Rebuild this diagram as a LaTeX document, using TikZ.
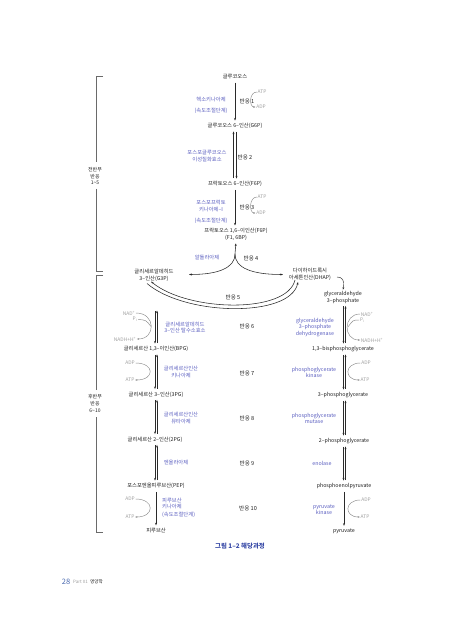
\documentclass[tikz,border=0pt]{standalone}
\usepackage{fontspec}
\setmainfont{Noto Sans CJK KR}
\usetikzlibrary{arrows.meta,calc}
\definecolor{txt}{HTML}{1E1E1E}
\definecolor{enzblue}{HTML}{5A5EC0}
\definecolor{cofgrey}{HTML}{A0A0A0}
\definecolor{arrc}{HTML}{2A2A2A}
\definecolor{sidec}{HTML}{8C8C8C}
\definecolor{brkc}{HTML}{6A6A6A}
\definecolor{capblue}{HTML}{3A4CA8}
\definecolor{pgblue}{HTML}{4A6AB0}
\tikzset{
 lbl/.style={font=\fontsize{5.3}{7}\selectfont, text=txt, inner sep=1pt, align=center},
 enz/.style={font=\fontsize{5.3}{6.6}\selectfont, text=enzblue, inner sep=1pt, align=center},
 cof/.style={font=\fontsize{4.9}{6}\selectfont, text=cofgrey, inner sep=0.6pt},
 rxn/.style={font=\fontsize{5.6}{7}\selectfont, text=txt, inner sep=1pt},
 brl/.style={font=\fontsize{5}{6.6}\selectfont, text=txt, inner sep=1pt, align=center},
 arr/.style={draw=arrc, line width=0.55pt, -{Stealth[length=2.7pt,width=2pt]}, shorten <=2pt, shorten >=1.5pt},
 side/.style={draw=sidec, line width=0.45pt},
 sidearr/.style={side, -{Stealth[length=2.3pt,width=1.8pt]}},
 brk/.style={draw=brkc, line width=0.55pt},
}
\begin{document}
\begin{tikzpicture}[x=1pt,y=-1pt]
\fill[white] (0,0) rectangle (474,628);
\useasboundingbox (0,0) rectangle (474,628);

% ---------- brackets ----------
\draw[brk] (103,76) -- (96,76) -- (96,162);
\draw[brk] (96,189) -- (96,271) -- (103,271);
\node[brl] (b1) at (95,176) {전반부\\반응\\1{\char"007E}5};
\draw[brk] (103,275) -- (96,275) -- (96,390);
\draw[brk] (96,417) -- (96,532) -- (103,532);
\node[brl] (b2) at (95,403.5) {후반부\\반응\\6{\char"007E}10};

% ---------- center column ----------
\node[lbl] (glc) at (235,77) {글루코오스};
\node[lbl] (g6p) at (235,126) {글루코오스 6–인산(G6P)};
\node[lbl] (f6p) at (235,184) {프락토오스 6–인산(F6P)};
\node[lbl] (f16) at (236,234.5) {프락토오스 1,6–이인산(F6P)\\(F1, 6BP)};

\node[enz] (hk1) at (211,100) {헥소키나아제};
\node[enz] (hk2) at (211,111) {(속도조절단계)};
\node[enz] (pgi) at (207,156) {포스포글루코오스\\이성질화효소};
\node[enz] (pfk) at (211,206.3) {포스포프럭토\\키나아제–I};
\node[enz] (pfk2) at (211,221) {(속도조절단계)};
\node[enz] (ald) at (207,258) {알돌라아제};

\node[rxn] (r1) at (247,101) {반응 1};
\node[rxn] (r2) at (245,157) {반응 2};
\node[rxn] (r3) at (247,207) {반응 3};
\node[rxn] (r4) at (251,258) {반응 4};
\node[rxn] (r5) at (233,297) {반응 5};
\node[rxn] (r6) at (247,326) {반응 6};
\node[rxn] (r7) at (247,373) {반응 7};
\node[rxn] (r8) at (247,418) {반응 8};
\node[rxn] (r9) at (247,463) {반응 9};
\node[rxn] (r10) at (248,508) {반응 10};

\node[cof] (atp1) at (262,92) {ATP};
\node[cof] (adp1) at (261,107) {ADP};
\node[cof] (atp3) at (262,197) {ATP};
\node[cof] (adp3) at (261,213) {ADP};

\draw[arr] (glc.south) -- (g6p.north);
\draw[arr] ([xshift=1.5pt]g6p.south) -- ([xshift=1.5pt]f6p.north);
\draw[arr] ([xshift=-1.5pt]f6p.north) -- ([xshift=-1.5pt]g6p.south);
\coordinate (f16top) at (235,227);
\draw[arr] (f6p.south) -- (f16top);
\draw[sidearr] (atp1.west) .. controls (249,92) and (249,107) .. (adp1.west);
\draw[sidearr] (atp3.west) .. controls (249,197) and (249,213) .. (adp3.west);

% ---------- split (reaction 4) ----------
\node[lbl] (g3p) at (154,275) {글리세르알데히드\\3–인산(G3P)};
\node[lbl] (dhap) at (310,274.5) {다이하이드록시\\아세톤인산(DHAP)};
\node[lbl] (gap) at (343,297) {glyceraldehyde\\3–phosphate};

\coordinate (yj) at (235,254);
\coordinate (r4L) at (189,274.5);
\coordinate (r4R) at (283,274.5);
\draw[arr, shorten <=0pt] (yj) -- (f16.south);
\draw[arr, shorten <=0pt, shorten >=0pt] (yj) .. controls (235,268) and (218,274.5) .. (r4L);
\draw[arr, shorten <=0pt, shorten >=0pt] (yj) .. controls (235,268) and (252,274.5) .. (r4R);

% reaction 5
\coordinate (r5a) at (147,283.5);
\coordinate (r5b) at (298,282);
\coordinate (r5c) at (151,281.5);
\coordinate (r5d) at (295,280);
\draw[arr, shorten <=0pt, shorten >=0pt] (r5a) .. controls (185,316) and (290,318) .. (r5b);
\draw[arr, shorten <=0pt, shorten >=0pt] (r5d) .. controls (287,314) and (188,312) .. (r5c);

% DHAP -> glyceraldehyde 3-phosphate
\coordinate (dh1) at (337,277);
\draw[draw=arrc, line width=0.45pt, -{Stealth[length=2.3pt,width=1.8pt]}] (dh1) .. controls (342,277) and (345,280) .. (gap.north);

% ---------- left column ----------
\node[lbl] (bpg) at (156,349) {글리세르산 1,3–이인산(BPG)};
\node[lbl] (p3g) at (156,394.5) {글리세르산 3–인산(3PG)};
\node[lbl] (p2g) at (155,439.5) {글리세르산 2–인산(2PG)};
\node[lbl] (pep) at (156,486) {포스포엔올피루브산(PEP)};
\node[lbl] (pyr) at (156,530.5) {피루브산};

\node[enz] (gapdh) at (185,327.5) {글리세르알데히드\\3–인산 탈수소효소};
\node[enz] (pgk) at (181,372) {글리세르산인산\\키나아제};
\node[enz] (pgm) at (181,418) {글리세르산인산\\뮤타아제};
\node[enz] (eno) at (176,463) {엔올라아제};
\node[enz, anchor=west, align=left] (pk) at (161,503.5) {피루브산\\키나아제};
\node[enz, anchor=west] (pk2) at (161,515) {(속도조절단계)};

\node[cof] (nadL) at (129,313) {NAD\textsuperscript{+}};
\node[cof] (piL) at (135,319.5) {P\textsubscript{i}};
\node[cof] (nadhL) at (125,339) {NADH+H\textsuperscript{+}};
\node[cof] (adpL7) at (130,363) {ADP};
\node[cof] (atpL7) at (130,380) {ATP};
\node[cof] (adpL10) at (130,499) {ADP};
\node[cof] (atpL10) at (130,517) {ATP};

\coordinate (r6L) at (156,309);
\draw[arr] ($(r6L)+(-1,0)$) -- ($(bpg.north)+(-1,0)$);
\draw[arr] ($(bpg.north)+(1,0)$) -- ($(r6L)+(1,0)$);
\draw[arr] ($(bpg.south)+(-1,0)$) -- ($(p3g.north)+(-1,0)$);
\draw[arr] ($(p3g.north)+(1,0)$) -- ($(bpg.south)+(1,0)$);
\draw[arr] ($(p3g.south)+(-1,0)$) -- ($(p2g.north)+(0,0)$);
\draw[arr] ($(p2g.north)+(2,0)$) -- ($(p3g.south)+(1,0)$);
\draw[arr] ($(p2g.south)+(0,0)$) -- ($(pep.north)+(-1,0)$);
\draw[arr] ($(pep.north)+(1,0)$) -- ($(p2g.south)+(2,0)$);
\draw[arr] (pep.south) -- (pyr.north);

\draw[sidearr] (nadL.east) .. controls (156,313) and (156,339) .. (nadhL.east);
\draw[side] (piL.east) .. controls (146,320) .. (151,326.5);
\draw[sidearr] (adpL7.east) .. controls (155,363) and (155,380) .. (atpL7.east);
\draw[sidearr] (adpL10.east) .. controls (155,499) and (155,517) .. (atpL10.east);

% ---------- right column ----------
\node[lbl] (bpgE) at (343,349) {1,3–bisphosphoglycerate};
\node[lbl] (p3gE) at (343,395) {3–phosphoglycerate};
\node[lbl] (p2gE) at (344,441) {2–phosphoglycerate};
\node[lbl] (pepE) at (344,486) {phosphoenolpyruvate};
\node[lbl] (pyrE) at (344,531) {pyruvate};

\node[enz] (gapdhE) at (315,327.5) {glyceraldehyde\\3–phosphate\\dehydrogenase};
\node[enz] (pgkE) at (314,372.5) {phosphoglycerate\\kinase};
\node[enz] (pgmE) at (314,418.5) {phosphoglycerate\\mutase};
\node[enz] (enoE) at (322,463) {enolase};
\node[enz] (pkE) at (324,509.5) {pyruvate\\kinase};

\node[cof] (nadR) at (367,314) {NAD\textsuperscript{+}};
\node[cof] (piR) at (362.5,320) {P\textsubscript{i}};
\node[cof] (nadhR) at (372,340) {NADH+H\textsuperscript{+}};
\node[cof] (adpR7) at (366,363) {ADP};
\node[cof] (atpR7) at (365,380) {ATP};
\node[cof] (adpR10) at (366,500) {ADP};
\node[cof] (atpR10) at (365,517) {ATP};

\draw[arr] ($(gap.south)+(0.5,0)$) -- ($(bpgE.north)+(0.5,0)$);
\draw[arr] ($(bpgE.north)+(2.5,0)$) -- ($(gap.south)+(2.5,0)$);
\draw[arr] ($(bpgE.south)+(0.5,0)$) -- ($(p3gE.north)+(0.5,0)$);
\draw[arr] ($(p3gE.north)+(2.5,0)$) -- ($(bpgE.south)+(2.5,0)$);
\draw[arr] ($(p3gE.south)+(0.5,0)$) -- ($(p2gE.north)+(-0.5,0)$);
\draw[arr] ($(p2gE.north)+(1.5,0)$) -- ($(p3gE.south)+(2.5,0)$);
\draw[arr] ($(p2gE.south)+(-0.5,0)$) -- ($(pepE.north)+(-0.5,0)$);
\draw[arr] ($(pepE.north)+(1.5,0)$) -- ($(p2gE.south)+(1.5,0)$);
\draw[arr] (pepE.south) -- (pyrE.north);

\draw[sidearr] (nadR.west) .. controls (343,314) and (343,340) .. (nadhR.west);
\draw[side] (piR.west) .. controls (353,320) .. (348,327);
\draw[sidearr] (adpR7.west) .. controls (344,363) and (344,380) .. (atpR7.west);
\draw[sidearr] (adpR10.west) .. controls (344,500) and (344,517) .. (atpR10.west);

% ---------- caption & footer ----------
\node[font=\bfseries\fontsize{6.4}{7}\selectfont, text=capblue, inner sep=1pt] (cap) at (240,546) {그림 1–2 해당과정};
\node[font=\fontsize{7.5}{8}\selectfont, text=pgblue, inner sep=0.5pt] (pgn) at (66,582) {28};
\node[font=\fontsize{4.5}{5}\selectfont, text=cofgrey, inner sep=0.5pt] (part) at (80.5,582) {Part 01};
\node[font=\fontsize{4.6}{5}\selectfont, text=txt, inner sep=0.5pt] (book) at (96.5,582) {영양학};
\end{tikzpicture}
\end{document}
